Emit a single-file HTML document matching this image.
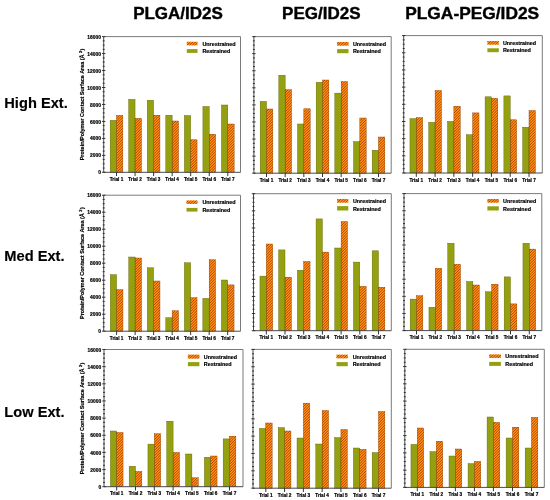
<!DOCTYPE html>
<html><head><meta charset="utf-8"><style>
html,body{margin:0;padding:0;background:#fff;}
body{width:550px;height:500px;overflow:hidden;}
svg{display:block;}
text{font-family:"Liberation Sans", sans-serif;font-weight:bold;paint-order:stroke;stroke-linejoin:round;}
.t{stroke:#000;stroke-width:0.4px;}
.r{stroke:#000;stroke-width:0.15px;}
.s{stroke:#111;stroke-width:0.2px;}
</style></head><body>
<svg width="550" height="500" viewBox="0 0 550 500">
<defs>
<filter id="bl" x="0" y="0" width="550" height="500" filterUnits="userSpaceOnUse"><feGaussianBlur stdDeviation="0.3"/></filter>
<filter id="bl2" x="0" y="0" width="550" height="500" filterUnits="userSpaceOnUse"><feGaussianBlur stdDeviation="0.15"/></filter>
<clipPath id="ob"><rect x="116.5" y="115.5" width="6.35" height="56.8"/><rect x="135.05" y="118.4" width="6.35" height="53.9"/><rect x="153.6" y="115.2" width="6.35" height="57.1"/><rect x="172.15" y="121" width="6.35" height="51.3"/><rect x="190.7" y="139.8" width="6.35" height="32.5"/><rect x="209.25" y="134.2" width="6.35" height="38.1"/><rect x="227.8" y="124" width="6.35" height="48.3"/><rect x="186.8" y="41.8" width="10.7" height="3.5"/><rect x="266.5" y="109" width="6.35" height="64.2"/><rect x="285.17" y="89.7" width="6.35" height="83.5"/><rect x="303.83" y="108.8" width="6.35" height="64.4"/><rect x="322.5" y="80" width="6.35" height="93.2"/><rect x="341.17" y="81.6" width="6.35" height="91.6"/><rect x="359.83" y="118" width="6.35" height="55.2"/><rect x="378.5" y="137" width="6.35" height="36.2"/><rect x="337.1" y="42" width="11.4" height="3.6"/><rect x="416.3" y="117.7" width="6.35" height="55.3"/><rect x="435.08" y="90.6" width="6.35" height="82.4"/><rect x="453.87" y="106.2" width="6.35" height="66.8"/><rect x="472.65" y="112.9" width="6.35" height="60.1"/><rect x="491.43" y="98.4" width="6.35" height="74.6"/><rect x="510.22" y="119.8" width="6.35" height="53.2"/><rect x="529" y="110.6" width="6.35" height="62.4"/><rect x="487.4" y="41" width="11.4" height="3.6"/><rect x="116.6" y="289.7" width="6.35" height="41.5"/><rect x="135.12" y="258" width="6.35" height="73.2"/><rect x="153.63" y="281" width="6.35" height="50.2"/><rect x="172.15" y="310.8" width="6.35" height="20.4"/><rect x="190.67" y="297.7" width="6.35" height="33.5"/><rect x="209.18" y="259.8" width="6.35" height="71.4"/><rect x="227.7" y="284.9" width="6.35" height="46.3"/><rect x="186.5" y="200.5" width="11" height="3.4"/><rect x="266.3" y="244" width="6.35" height="86.7"/><rect x="285" y="277.2" width="6.35" height="53.5"/><rect x="303.7" y="261.6" width="6.35" height="69.1"/><rect x="322.4" y="252.1" width="6.35" height="78.6"/><rect x="341.1" y="221.6" width="6.35" height="109.1"/><rect x="359.8" y="286.4" width="6.35" height="44.3"/><rect x="378.5" y="287.2" width="6.35" height="43.5"/><rect x="337.1" y="199" width="11.2" height="3.6"/><rect x="416.5" y="295.8" width="6.35" height="34.8"/><rect x="435.3" y="268.3" width="6.35" height="62.3"/><rect x="454.1" y="264.3" width="6.35" height="66.3"/><rect x="472.9" y="285" width="6.35" height="45.6"/><rect x="491.7" y="284.2" width="6.35" height="46.4"/><rect x="510.5" y="303.9" width="6.35" height="26.7"/><rect x="529.3" y="249.1" width="6.35" height="81.5"/><rect x="487.4" y="199" width="11.4" height="3.6"/><rect x="116.7" y="432.6" width="6.35" height="54.1"/><rect x="135.5" y="471.5" width="6.35" height="15.2"/><rect x="154.3" y="433.8" width="6.35" height="52.9"/><rect x="173.1" y="452.5" width="6.35" height="34.2"/><rect x="191.9" y="477.8" width="6.35" height="8.9"/><rect x="210.7" y="456" width="6.35" height="30.7"/><rect x="229.5" y="436.2" width="6.35" height="50.5"/><rect x="187.9" y="354.7" width="11.5" height="3.9"/><rect x="265.8" y="423" width="6.35" height="65.2"/><rect x="284.58" y="431" width="6.35" height="57.2"/><rect x="303.37" y="403.2" width="6.35" height="85"/><rect x="322.15" y="410.6" width="6.35" height="77.6"/><rect x="340.93" y="429.6" width="6.35" height="58.6"/><rect x="359.72" y="449.4" width="6.35" height="38.8"/><rect x="378.5" y="411.6" width="6.35" height="76.6"/><rect x="336.5" y="354.7" width="11.3" height="3.6"/><rect x="417.3" y="428" width="6.35" height="59.4"/><rect x="436.33" y="441.2" width="6.35" height="46.2"/><rect x="455.37" y="449" width="6.35" height="38.4"/><rect x="474.4" y="461.4" width="6.35" height="26"/><rect x="493.43" y="422.4" width="6.35" height="65"/><rect x="512.47" y="427.2" width="6.35" height="60.2"/><rect x="531.5" y="417.4" width="6.35" height="70"/><rect x="489.2" y="354.5" width="11.7" height="3.4"/></clipPath>
</defs>
<rect width="550" height="500" fill="#fff"/>
<g><rect x="110.15" y="120.3" width="6.35" height="52" fill="#94a010"/><rect x="128.7" y="99.4" width="6.35" height="72.9" fill="#94a010"/><rect x="147.25" y="100.2" width="6.35" height="72.1" fill="#94a010"/><rect x="165.8" y="115.2" width="6.35" height="57.1" fill="#94a010"/><rect x="184.35" y="115.5" width="6.35" height="56.8" fill="#94a010"/><rect x="202.9" y="106.5" width="6.35" height="65.8" fill="#94a010"/><rect x="221.45" y="105" width="6.35" height="67.3" fill="#94a010"/><rect x="186.8" y="49.1" width="10.7" height="3.8" fill="#94a010"/><rect x="260.15" y="101.4" width="6.35" height="71.8" fill="#94a010"/><rect x="278.82" y="75.2" width="6.35" height="98" fill="#94a010"/><rect x="297.48" y="124" width="6.35" height="49.2" fill="#94a010"/><rect x="316.15" y="82.3" width="6.35" height="90.9" fill="#94a010"/><rect x="334.82" y="93.1" width="6.35" height="80.1" fill="#94a010"/><rect x="353.48" y="141.6" width="6.35" height="31.6" fill="#94a010"/><rect x="372.15" y="150.2" width="6.35" height="23" fill="#94a010"/><rect x="337.1" y="49.1" width="11.4" height="4.1" fill="#94a010"/><rect x="409.95" y="118.6" width="6.35" height="54.4" fill="#94a010"/><rect x="428.73" y="122.3" width="6.35" height="50.7" fill="#94a010"/><rect x="447.52" y="121.4" width="6.35" height="51.6" fill="#94a010"/><rect x="466.3" y="134.7" width="6.35" height="38.3" fill="#94a010"/><rect x="485.08" y="96.8" width="6.35" height="76.2" fill="#94a010"/><rect x="503.87" y="95.9" width="6.35" height="77.1" fill="#94a010"/><rect x="522.65" y="127.2" width="6.35" height="45.8" fill="#94a010"/><rect x="487.4" y="48.3" width="11.4" height="3.9" fill="#94a010"/><rect x="110.25" y="274.7" width="6.35" height="56.5" fill="#94a010"/><rect x="128.77" y="257" width="6.35" height="74.2" fill="#94a010"/><rect x="147.28" y="267.8" width="6.35" height="63.4" fill="#94a010"/><rect x="165.8" y="317.7" width="6.35" height="13.5" fill="#94a010"/><rect x="184.32" y="262.8" width="6.35" height="68.4" fill="#94a010"/><rect x="202.83" y="298.4" width="6.35" height="32.8" fill="#94a010"/><rect x="221.35" y="280" width="6.35" height="51.2" fill="#94a010"/><rect x="186.5" y="207.9" width="11" height="3.7" fill="#94a010"/><rect x="259.95" y="276.1" width="6.35" height="54.6" fill="#94a010"/><rect x="278.65" y="249.9" width="6.35" height="80.8" fill="#94a010"/><rect x="297.35" y="270.2" width="6.35" height="60.5" fill="#94a010"/><rect x="316.05" y="218.9" width="6.35" height="111.8" fill="#94a010"/><rect x="334.75" y="248" width="6.35" height="82.7" fill="#94a010"/><rect x="353.45" y="262.1" width="6.35" height="68.6" fill="#94a010"/><rect x="372.15" y="250.8" width="6.35" height="79.9" fill="#94a010"/><rect x="337.1" y="206.1" width="11.2" height="4.4" fill="#94a010"/><rect x="410.15" y="299.1" width="6.35" height="31.5" fill="#94a010"/><rect x="428.95" y="307.2" width="6.35" height="23.4" fill="#94a010"/><rect x="447.75" y="243.2" width="6.35" height="87.4" fill="#94a010"/><rect x="466.55" y="281.5" width="6.35" height="49.1" fill="#94a010"/><rect x="485.35" y="291.8" width="6.35" height="38.8" fill="#94a010"/><rect x="504.15" y="276.9" width="6.35" height="53.7" fill="#94a010"/><rect x="522.95" y="243.2" width="6.35" height="87.4" fill="#94a010"/><rect x="487.4" y="206.3" width="11.4" height="4.2" fill="#94a010"/><rect x="110.35" y="431" width="6.35" height="55.7" fill="#94a010"/><rect x="129.15" y="466.2" width="6.35" height="20.5" fill="#94a010"/><rect x="147.95" y="444.1" width="6.35" height="42.6" fill="#94a010"/><rect x="166.75" y="421.2" width="6.35" height="65.5" fill="#94a010"/><rect x="185.55" y="454" width="6.35" height="32.7" fill="#94a010"/><rect x="204.35" y="457.2" width="6.35" height="29.5" fill="#94a010"/><rect x="223.15" y="438.9" width="6.35" height="47.8" fill="#94a010"/><rect x="187.9" y="362.1" width="11.5" height="4.1" fill="#94a010"/><rect x="259.45" y="428.4" width="6.35" height="59.8" fill="#94a010"/><rect x="278.23" y="427.6" width="6.35" height="60.6" fill="#94a010"/><rect x="297.02" y="438" width="6.35" height="50.2" fill="#94a010"/><rect x="315.8" y="444" width="6.35" height="44.2" fill="#94a010"/><rect x="334.58" y="437.6" width="6.35" height="50.6" fill="#94a010"/><rect x="353.37" y="448" width="6.35" height="40.2" fill="#94a010"/><rect x="372.15" y="452.6" width="6.35" height="35.6" fill="#94a010"/><rect x="336.5" y="362.1" width="11.3" height="4.1" fill="#94a010"/><rect x="410.95" y="444.4" width="6.35" height="43" fill="#94a010"/><rect x="429.98" y="451.6" width="6.35" height="35.8" fill="#94a010"/><rect x="449.02" y="456" width="6.35" height="31.4" fill="#94a010"/><rect x="468.05" y="463.6" width="6.35" height="23.8" fill="#94a010"/><rect x="487.08" y="417" width="6.35" height="70.4" fill="#94a010"/><rect x="506.12" y="438" width="6.35" height="49.4" fill="#94a010"/><rect x="525.15" y="448" width="6.35" height="39.4" fill="#94a010"/><rect x="489.2" y="361.9" width="11.7" height="4" fill="#94a010"/><rect x="116.5" y="115.5" width="6.35" height="56.8" fill="#ff9014"/><rect x="135.05" y="118.4" width="6.35" height="53.9" fill="#ff9014"/><rect x="153.6" y="115.2" width="6.35" height="57.1" fill="#ff9014"/><rect x="172.15" y="121" width="6.35" height="51.3" fill="#ff9014"/><rect x="190.7" y="139.8" width="6.35" height="32.5" fill="#ff9014"/><rect x="209.25" y="134.2" width="6.35" height="38.1" fill="#ff9014"/><rect x="227.8" y="124" width="6.35" height="48.3" fill="#ff9014"/><rect x="186.8" y="41.8" width="10.7" height="3.5" fill="#ff9014"/><rect x="266.5" y="109" width="6.35" height="64.2" fill="#ff9014"/><rect x="285.17" y="89.7" width="6.35" height="83.5" fill="#ff9014"/><rect x="303.83" y="108.8" width="6.35" height="64.4" fill="#ff9014"/><rect x="322.5" y="80" width="6.35" height="93.2" fill="#ff9014"/><rect x="341.17" y="81.6" width="6.35" height="91.6" fill="#ff9014"/><rect x="359.83" y="118" width="6.35" height="55.2" fill="#ff9014"/><rect x="378.5" y="137" width="6.35" height="36.2" fill="#ff9014"/><rect x="337.1" y="42" width="11.4" height="3.6" fill="#ff9014"/><rect x="416.3" y="117.7" width="6.35" height="55.3" fill="#ff9014"/><rect x="435.08" y="90.6" width="6.35" height="82.4" fill="#ff9014"/><rect x="453.87" y="106.2" width="6.35" height="66.8" fill="#ff9014"/><rect x="472.65" y="112.9" width="6.35" height="60.1" fill="#ff9014"/><rect x="491.43" y="98.4" width="6.35" height="74.6" fill="#ff9014"/><rect x="510.22" y="119.8" width="6.35" height="53.2" fill="#ff9014"/><rect x="529" y="110.6" width="6.35" height="62.4" fill="#ff9014"/><rect x="487.4" y="41" width="11.4" height="3.6" fill="#ff9014"/><rect x="116.6" y="289.7" width="6.35" height="41.5" fill="#ff9014"/><rect x="135.12" y="258" width="6.35" height="73.2" fill="#ff9014"/><rect x="153.63" y="281" width="6.35" height="50.2" fill="#ff9014"/><rect x="172.15" y="310.8" width="6.35" height="20.4" fill="#ff9014"/><rect x="190.67" y="297.7" width="6.35" height="33.5" fill="#ff9014"/><rect x="209.18" y="259.8" width="6.35" height="71.4" fill="#ff9014"/><rect x="227.7" y="284.9" width="6.35" height="46.3" fill="#ff9014"/><rect x="186.5" y="200.5" width="11" height="3.4" fill="#ff9014"/><rect x="266.3" y="244" width="6.35" height="86.7" fill="#ff9014"/><rect x="285" y="277.2" width="6.35" height="53.5" fill="#ff9014"/><rect x="303.7" y="261.6" width="6.35" height="69.1" fill="#ff9014"/><rect x="322.4" y="252.1" width="6.35" height="78.6" fill="#ff9014"/><rect x="341.1" y="221.6" width="6.35" height="109.1" fill="#ff9014"/><rect x="359.8" y="286.4" width="6.35" height="44.3" fill="#ff9014"/><rect x="378.5" y="287.2" width="6.35" height="43.5" fill="#ff9014"/><rect x="337.1" y="199" width="11.2" height="3.6" fill="#ff9014"/><rect x="416.5" y="295.8" width="6.35" height="34.8" fill="#ff9014"/><rect x="435.3" y="268.3" width="6.35" height="62.3" fill="#ff9014"/><rect x="454.1" y="264.3" width="6.35" height="66.3" fill="#ff9014"/><rect x="472.9" y="285" width="6.35" height="45.6" fill="#ff9014"/><rect x="491.7" y="284.2" width="6.35" height="46.4" fill="#ff9014"/><rect x="510.5" y="303.9" width="6.35" height="26.7" fill="#ff9014"/><rect x="529.3" y="249.1" width="6.35" height="81.5" fill="#ff9014"/><rect x="487.4" y="199" width="11.4" height="3.6" fill="#ff9014"/><rect x="116.7" y="432.6" width="6.35" height="54.1" fill="#ff9014"/><rect x="135.5" y="471.5" width="6.35" height="15.2" fill="#ff9014"/><rect x="154.3" y="433.8" width="6.35" height="52.9" fill="#ff9014"/><rect x="173.1" y="452.5" width="6.35" height="34.2" fill="#ff9014"/><rect x="191.9" y="477.8" width="6.35" height="8.9" fill="#ff9014"/><rect x="210.7" y="456" width="6.35" height="30.7" fill="#ff9014"/><rect x="229.5" y="436.2" width="6.35" height="50.5" fill="#ff9014"/><rect x="187.9" y="354.7" width="11.5" height="3.9" fill="#ff9014"/><rect x="265.8" y="423" width="6.35" height="65.2" fill="#ff9014"/><rect x="284.58" y="431" width="6.35" height="57.2" fill="#ff9014"/><rect x="303.37" y="403.2" width="6.35" height="85" fill="#ff9014"/><rect x="322.15" y="410.6" width="6.35" height="77.6" fill="#ff9014"/><rect x="340.93" y="429.6" width="6.35" height="58.6" fill="#ff9014"/><rect x="359.72" y="449.4" width="6.35" height="38.8" fill="#ff9014"/><rect x="378.5" y="411.6" width="6.35" height="76.6" fill="#ff9014"/><rect x="336.5" y="354.7" width="11.3" height="3.6" fill="#ff9014"/><rect x="417.3" y="428" width="6.35" height="59.4" fill="#ff9014"/><rect x="436.33" y="441.2" width="6.35" height="46.2" fill="#ff9014"/><rect x="455.37" y="449" width="6.35" height="38.4" fill="#ff9014"/><rect x="474.4" y="461.4" width="6.35" height="26" fill="#ff9014"/><rect x="493.43" y="422.4" width="6.35" height="65" fill="#ff9014"/><rect x="512.47" y="427.2" width="6.35" height="60.2" fill="#ff9014"/><rect x="531.5" y="417.4" width="6.35" height="70" fill="#ff9014"/><rect x="489.2" y="354.5" width="11.7" height="3.4" fill="#ff9014"/><path clip-path="url(#ob)" d="M0 2.7L2.7 0M0 5.4L5.4 0M0 8.1L8.1 0M0 10.8L10.8 0M0 13.5L13.5 0M0 16.2L16.2 0M0 18.9L18.9 0M0 21.6L21.6 0M0 24.3L24.3 0M0 27L27 0M0 29.7L29.7 0M0 32.4L32.4 0M0 35.1L35.1 0M0 37.8L37.8 0M0 40.5L40.5 0M0 43.2L43.2 0M0 45.9L45.9 0M0 48.6L48.6 0M0 51.3L51.3 0M0 54L54 0M0 56.7L56.7 0M0 59.4L59.4 0M0 62.1L62.1 0M0 64.8L64.8 0M0 67.5L67.5 0M0 70.2L70.2 0M0 72.9L72.9 0M0 75.6L75.6 0M0 78.3L78.3 0M0 81L81 0M0 83.7L83.7 0M0 86.4L86.4 0M0 89.1L89.1 0M0 91.8L91.8 0M0 94.5L94.5 0M0 97.2L97.2 0M0 99.9L99.9 0M0 102.6L102.6 0M0 105.3L105.3 0M0 108L108 0M0 110.7L110.7 0M0 113.4L113.4 0M0 116.1L116.1 0M0 118.8L118.8 0M0 121.5L121.5 0M0 124.2L124.2 0M0 126.9L126.9 0M0 129.6L129.6 0M0 132.3L132.3 0M0 135L135 0M0 137.7L137.7 0M0 140.4L140.4 0M0 143.1L143.1 0M0 145.8L145.8 0M0 148.5L148.5 0M0 151.2L151.2 0M0 153.9L153.9 0M0 156.6L156.6 0M0 159.3L159.3 0M0 162L162 0M0 164.7L164.7 0M0 167.4L167.4 0M0 170.1L170.1 0M0 172.8L172.8 0M0 175.5L175.5 0M0 178.2L178.2 0M0 180.9L180.9 0M0 183.6L183.6 0M0 186.3L186.3 0M0 189L189 0M0 191.7L191.7 0M0 194.4L194.4 0M0 197.1L197.1 0M0 199.8L199.8 0M0 202.5L202.5 0M0 205.2L205.2 0M0 207.9L207.9 0M0 210.6L210.6 0M0 213.3L213.3 0M0 216L216 0M0 218.7L218.7 0M0 221.4L221.4 0M0 224.1L224.1 0M0 226.8L226.8 0M0 229.5L229.5 0M0 232.2L232.2 0M0 234.9L234.9 0M0 237.6L237.6 0M0 240.3L240.3 0M0 243L243 0M0 245.7L245.7 0M0 248.4L248.4 0M0 251.1L251.1 0M0 253.8L253.8 0M0 256.5L256.5 0M0 259.2L259.2 0M0 261.9L261.9 0M0 264.6L264.6 0M0 267.3L267.3 0M0 270L270 0M0 272.7L272.7 0M0 275.4L275.4 0M0 278.1L278.1 0M0 280.8L280.8 0M0 283.5L283.5 0M0 286.2L286.2 0M0 288.9L288.9 0M0 291.6L291.6 0M0 294.3L294.3 0M0 297L297 0M0 299.7L299.7 0M0 302.4L302.4 0M0 305.1L305.1 0M0 307.8L307.8 0M0 310.5L310.5 0M0 313.2L313.2 0M0 315.9L315.9 0M0 318.6L318.6 0M0 321.3L321.3 0M0 324L324 0M0 326.7L326.7 0M0 329.4L329.4 0M0 332.1L332.1 0M0 334.8L334.8 0M0 337.5L337.5 0M0 340.2L340.2 0M0 342.9L342.9 0M0 345.6L345.6 0M0 348.3L348.3 0M0 351L351 0M0 353.7L353.7 0M0 356.4L356.4 0M0 359.1L359.1 0M0 361.8L361.8 0M0 364.5L364.5 0M0 367.2L367.2 0M0 369.9L369.9 0M0 372.6L372.6 0M0 375.3L375.3 0M0 378L378 0M0 380.7L380.7 0M0 383.4L383.4 0M0 386.1L386.1 0M0 388.8L388.8 0M0 391.5L391.5 0M0 394.2L394.2 0M0 396.9L396.9 0M0 399.6L399.6 0M0 402.3L402.3 0M0 405L405 0M0 407.7L407.7 0M0 410.4L410.4 0M0 413.1L413.1 0M0 415.8L415.8 0M0 418.5L418.5 0M0 421.2L421.2 0M0 423.9L423.9 0M0 426.6L426.6 0M0 429.3L429.3 0M0 432L432 0M0 434.7L434.7 0M0 437.4L437.4 0M0 440.1L440.1 0M0 442.8L442.8 0M0 445.5L445.5 0M0 448.2L448.2 0M0 450.9L450.9 0M0 453.6L453.6 0M0 456.3L456.3 0M0 459L459 0M0 461.7L461.7 0M0 464.4L464.4 0M0 467.1L467.1 0M0 469.8L469.8 0M0 472.5L472.5 0M0 475.2L475.2 0M0 477.9L477.9 0M0 480.6L480.6 0M0 483.3L483.3 0M0 486L486 0M0 488.7L488.7 0M0 491.4L491.4 0M0 494.1L494.1 0M0 496.8L496.8 0M0 499.5L499.5 0M2.2 500L502.2 0M4.9 500L504.9 0M7.6 500L507.6 0M10.3 500L510.3 0M13 500L513 0M15.7 500L515.7 0M18.4 500L518.4 0M21.1 500L521.1 0M23.8 500L523.8 0M26.5 500L526.5 0M29.2 500L529.2 0M31.9 500L531.9 0M34.6 500L534.6 0M37.3 500L537.3 0M40 500L540 0M42.7 500L542.7 0M45.4 500L545.4 0M48.1 500L548.1 0M50.8 500L550 0.8M53.5 500L550 3.5M56.2 500L550 6.2M58.9 500L550 8.9M61.6 500L550 11.6M64.3 500L550 14.3M67 500L550 17M69.7 500L550 19.7M72.4 500L550 22.4M75.1 500L550 25.1M77.8 500L550 27.8M80.5 500L550 30.5M83.2 500L550 33.2M85.9 500L550 35.9M88.6 500L550 38.6M91.3 500L550 41.3M94 500L550 44M96.7 500L550 46.7M99.4 500L550 49.4M102.1 500L550 52.1M104.8 500L550 54.8M107.5 500L550 57.5M110.2 500L550 60.2M112.9 500L550 62.9M115.6 500L550 65.6M118.3 500L550 68.3M121 500L550 71M123.7 500L550 73.7M126.4 500L550 76.4M129.1 500L550 79.1M131.8 500L550 81.8M134.5 500L550 84.5M137.2 500L550 87.2M139.9 500L550 89.9M142.6 500L550 92.6M145.3 500L550 95.3M148 500L550 98M150.7 500L550 100.7M153.4 500L550 103.4M156.1 500L550 106.1M158.8 500L550 108.8M161.5 500L550 111.5M164.2 500L550 114.2M166.9 500L550 116.9M169.6 500L550 119.6M172.3 500L550 122.3M175 500L550 125M177.7 500L550 127.7M180.4 500L550 130.4M183.1 500L550 133.1M185.8 500L550 135.8M188.5 500L550 138.5M191.2 500L550 141.2M193.9 500L550 143.9M196.6 500L550 146.6M199.3 500L550 149.3M202 500L550 152M204.7 500L550 154.7M207.4 500L550 157.4M210.1 500L550 160.1M212.8 500L550 162.8M215.5 500L550 165.5M218.2 500L550 168.2M220.9 500L550 170.9M223.6 500L550 173.6M226.3 500L550 176.3M229 500L550 179M231.7 500L550 181.7M234.4 500L550 184.4M237.1 500L550 187.1M239.8 500L550 189.8M242.5 500L550 192.5M245.2 500L550 195.2M247.9 500L550 197.9M250.6 500L550 200.6M253.3 500L550 203.3M256 500L550 206M258.7 500L550 208.7M261.4 500L550 211.4M264.1 500L550 214.1M266.8 500L550 216.8M269.5 500L550 219.5M272.2 500L550 222.2M274.9 500L550 224.9M277.6 500L550 227.6M280.3 500L550 230.3M283 500L550 233M285.7 500L550 235.7M288.4 500L550 238.4M291.1 500L550 241.1M293.8 500L550 243.8M296.5 500L550 246.5M299.2 500L550 249.2M301.9 500L550 251.9M304.6 500L550 254.6M307.3 500L550 257.3M310 500L550 260M312.7 500L550 262.7M315.4 500L550 265.4M318.1 500L550 268.1M320.8 500L550 270.8M323.5 500L550 273.5M326.2 500L550 276.2M328.9 500L550 278.9M331.6 500L550 281.6M334.3 500L550 284.3M337 500L550 287M339.7 500L550 289.7M342.4 500L550 292.4M345.1 500L550 295.1M347.8 500L550 297.8M350.5 500L550 300.5M353.2 500L550 303.2M355.9 500L550 305.9M358.6 500L550 308.6M361.3 500L550 311.3M364 500L550 314M366.7 500L550 316.7M369.4 500L550 319.4M372.1 500L550 322.1M374.8 500L550 324.8M377.5 500L550 327.5M380.2 500L550 330.2M382.9 500L550 332.9M385.6 500L550 335.6M388.3 500L550 338.3M391 500L550 341M393.7 500L550 343.7M396.4 500L550 346.4M399.1 500L550 349.1M401.8 500L550 351.8M404.5 500L550 354.5M407.2 500L550 357.2M409.9 500L550 359.9M412.6 500L550 362.6M415.3 500L550 365.3M418 500L550 368M420.7 500L550 370.7M423.4 500L550 373.4M426.1 500L550 376.1M428.8 500L550 378.8M431.5 500L550 381.5M434.2 500L550 384.2M436.9 500L550 386.9M439.6 500L550 389.6M442.3 500L550 392.3M445 500L550 395M447.7 500L550 397.7M450.4 500L550 400.4M453.1 500L550 403.1M455.8 500L550 405.8M458.5 500L550 408.5M461.2 500L550 411.2M463.9 500L550 413.9M466.6 500L550 416.6M469.3 500L550 419.3M472 500L550 422M474.7 500L550 424.7M477.4 500L550 427.4M480.1 500L550 430.1M482.8 500L550 432.8M485.5 500L550 435.5M488.2 500L550 438.2M490.9 500L550 440.9M493.6 500L550 443.6M496.3 500L550 446.3M499 500L550 449M501.7 500L550 451.7M504.4 500L550 454.4M507.1 500L550 457.1M509.8 500L550 459.8M512.5 500L550 462.5M515.2 500L550 465.2M517.9 500L550 467.9M520.6 500L550 470.6M523.3 500L550 473.3M526 500L550 476M528.7 500L550 478.7M531.4 500L550 481.4M534.1 500L550 484.1M536.8 500L550 486.8M539.5 500L550 489.5M542.2 500L550 492.2M544.9 500L550 494.9M547.6 500L550 497.6" stroke="#b44600" stroke-width="1.0" fill="none"/><rect x="110.15" y="120.3" width="6.35" height="52" fill="none" stroke="#5c6000" stroke-width="0.4"/><rect x="128.7" y="99.4" width="6.35" height="72.9" fill="none" stroke="#5c6000" stroke-width="0.4"/><rect x="147.25" y="100.2" width="6.35" height="72.1" fill="none" stroke="#5c6000" stroke-width="0.4"/><rect x="165.8" y="115.2" width="6.35" height="57.1" fill="none" stroke="#5c6000" stroke-width="0.4"/><rect x="184.35" y="115.5" width="6.35" height="56.8" fill="none" stroke="#5c6000" stroke-width="0.4"/><rect x="202.9" y="106.5" width="6.35" height="65.8" fill="none" stroke="#5c6000" stroke-width="0.4"/><rect x="221.45" y="105" width="6.35" height="67.3" fill="none" stroke="#5c6000" stroke-width="0.4"/><rect x="260.15" y="101.4" width="6.35" height="71.8" fill="none" stroke="#5c6000" stroke-width="0.4"/><rect x="278.82" y="75.2" width="6.35" height="98" fill="none" stroke="#5c6000" stroke-width="0.4"/><rect x="297.48" y="124" width="6.35" height="49.2" fill="none" stroke="#5c6000" stroke-width="0.4"/><rect x="316.15" y="82.3" width="6.35" height="90.9" fill="none" stroke="#5c6000" stroke-width="0.4"/><rect x="334.82" y="93.1" width="6.35" height="80.1" fill="none" stroke="#5c6000" stroke-width="0.4"/><rect x="353.48" y="141.6" width="6.35" height="31.6" fill="none" stroke="#5c6000" stroke-width="0.4"/><rect x="372.15" y="150.2" width="6.35" height="23" fill="none" stroke="#5c6000" stroke-width="0.4"/><rect x="409.95" y="118.6" width="6.35" height="54.4" fill="none" stroke="#5c6000" stroke-width="0.4"/><rect x="428.73" y="122.3" width="6.35" height="50.7" fill="none" stroke="#5c6000" stroke-width="0.4"/><rect x="447.52" y="121.4" width="6.35" height="51.6" fill="none" stroke="#5c6000" stroke-width="0.4"/><rect x="466.3" y="134.7" width="6.35" height="38.3" fill="none" stroke="#5c6000" stroke-width="0.4"/><rect x="485.08" y="96.8" width="6.35" height="76.2" fill="none" stroke="#5c6000" stroke-width="0.4"/><rect x="503.87" y="95.9" width="6.35" height="77.1" fill="none" stroke="#5c6000" stroke-width="0.4"/><rect x="522.65" y="127.2" width="6.35" height="45.8" fill="none" stroke="#5c6000" stroke-width="0.4"/><rect x="110.25" y="274.7" width="6.35" height="56.5" fill="none" stroke="#5c6000" stroke-width="0.4"/><rect x="128.77" y="257" width="6.35" height="74.2" fill="none" stroke="#5c6000" stroke-width="0.4"/><rect x="147.28" y="267.8" width="6.35" height="63.4" fill="none" stroke="#5c6000" stroke-width="0.4"/><rect x="165.8" y="317.7" width="6.35" height="13.5" fill="none" stroke="#5c6000" stroke-width="0.4"/><rect x="184.32" y="262.8" width="6.35" height="68.4" fill="none" stroke="#5c6000" stroke-width="0.4"/><rect x="202.83" y="298.4" width="6.35" height="32.8" fill="none" stroke="#5c6000" stroke-width="0.4"/><rect x="221.35" y="280" width="6.35" height="51.2" fill="none" stroke="#5c6000" stroke-width="0.4"/><rect x="259.95" y="276.1" width="6.35" height="54.6" fill="none" stroke="#5c6000" stroke-width="0.4"/><rect x="278.65" y="249.9" width="6.35" height="80.8" fill="none" stroke="#5c6000" stroke-width="0.4"/><rect x="297.35" y="270.2" width="6.35" height="60.5" fill="none" stroke="#5c6000" stroke-width="0.4"/><rect x="316.05" y="218.9" width="6.35" height="111.8" fill="none" stroke="#5c6000" stroke-width="0.4"/><rect x="334.75" y="248" width="6.35" height="82.7" fill="none" stroke="#5c6000" stroke-width="0.4"/><rect x="353.45" y="262.1" width="6.35" height="68.6" fill="none" stroke="#5c6000" stroke-width="0.4"/><rect x="372.15" y="250.8" width="6.35" height="79.9" fill="none" stroke="#5c6000" stroke-width="0.4"/><rect x="410.15" y="299.1" width="6.35" height="31.5" fill="none" stroke="#5c6000" stroke-width="0.4"/><rect x="428.95" y="307.2" width="6.35" height="23.4" fill="none" stroke="#5c6000" stroke-width="0.4"/><rect x="447.75" y="243.2" width="6.35" height="87.4" fill="none" stroke="#5c6000" stroke-width="0.4"/><rect x="466.55" y="281.5" width="6.35" height="49.1" fill="none" stroke="#5c6000" stroke-width="0.4"/><rect x="485.35" y="291.8" width="6.35" height="38.8" fill="none" stroke="#5c6000" stroke-width="0.4"/><rect x="504.15" y="276.9" width="6.35" height="53.7" fill="none" stroke="#5c6000" stroke-width="0.4"/><rect x="522.95" y="243.2" width="6.35" height="87.4" fill="none" stroke="#5c6000" stroke-width="0.4"/><rect x="110.35" y="431" width="6.35" height="55.7" fill="none" stroke="#5c6000" stroke-width="0.4"/><rect x="129.15" y="466.2" width="6.35" height="20.5" fill="none" stroke="#5c6000" stroke-width="0.4"/><rect x="147.95" y="444.1" width="6.35" height="42.6" fill="none" stroke="#5c6000" stroke-width="0.4"/><rect x="166.75" y="421.2" width="6.35" height="65.5" fill="none" stroke="#5c6000" stroke-width="0.4"/><rect x="185.55" y="454" width="6.35" height="32.7" fill="none" stroke="#5c6000" stroke-width="0.4"/><rect x="204.35" y="457.2" width="6.35" height="29.5" fill="none" stroke="#5c6000" stroke-width="0.4"/><rect x="223.15" y="438.9" width="6.35" height="47.8" fill="none" stroke="#5c6000" stroke-width="0.4"/><rect x="259.45" y="428.4" width="6.35" height="59.8" fill="none" stroke="#5c6000" stroke-width="0.4"/><rect x="278.23" y="427.6" width="6.35" height="60.6" fill="none" stroke="#5c6000" stroke-width="0.4"/><rect x="297.02" y="438" width="6.35" height="50.2" fill="none" stroke="#5c6000" stroke-width="0.4"/><rect x="315.8" y="444" width="6.35" height="44.2" fill="none" stroke="#5c6000" stroke-width="0.4"/><rect x="334.58" y="437.6" width="6.35" height="50.6" fill="none" stroke="#5c6000" stroke-width="0.4"/><rect x="353.37" y="448" width="6.35" height="40.2" fill="none" stroke="#5c6000" stroke-width="0.4"/><rect x="372.15" y="452.6" width="6.35" height="35.6" fill="none" stroke="#5c6000" stroke-width="0.4"/><rect x="410.95" y="444.4" width="6.35" height="43" fill="none" stroke="#5c6000" stroke-width="0.4"/><rect x="429.98" y="451.6" width="6.35" height="35.8" fill="none" stroke="#5c6000" stroke-width="0.4"/><rect x="449.02" y="456" width="6.35" height="31.4" fill="none" stroke="#5c6000" stroke-width="0.4"/><rect x="468.05" y="463.6" width="6.35" height="23.8" fill="none" stroke="#5c6000" stroke-width="0.4"/><rect x="487.08" y="417" width="6.35" height="70.4" fill="none" stroke="#5c6000" stroke-width="0.4"/><rect x="506.12" y="438" width="6.35" height="49.4" fill="none" stroke="#5c6000" stroke-width="0.4"/><rect x="525.15" y="448" width="6.35" height="39.4" fill="none" stroke="#5c6000" stroke-width="0.4"/><rect x="116.5" y="115.5" width="6.35" height="56.8" fill="none" stroke="#8a3c00" stroke-width="0.4"/><rect x="135.05" y="118.4" width="6.35" height="53.9" fill="none" stroke="#8a3c00" stroke-width="0.4"/><rect x="153.6" y="115.2" width="6.35" height="57.1" fill="none" stroke="#8a3c00" stroke-width="0.4"/><rect x="172.15" y="121" width="6.35" height="51.3" fill="none" stroke="#8a3c00" stroke-width="0.4"/><rect x="190.7" y="139.8" width="6.35" height="32.5" fill="none" stroke="#8a3c00" stroke-width="0.4"/><rect x="209.25" y="134.2" width="6.35" height="38.1" fill="none" stroke="#8a3c00" stroke-width="0.4"/><rect x="227.8" y="124" width="6.35" height="48.3" fill="none" stroke="#8a3c00" stroke-width="0.4"/><rect x="266.5" y="109" width="6.35" height="64.2" fill="none" stroke="#8a3c00" stroke-width="0.4"/><rect x="285.17" y="89.7" width="6.35" height="83.5" fill="none" stroke="#8a3c00" stroke-width="0.4"/><rect x="303.83" y="108.8" width="6.35" height="64.4" fill="none" stroke="#8a3c00" stroke-width="0.4"/><rect x="322.5" y="80" width="6.35" height="93.2" fill="none" stroke="#8a3c00" stroke-width="0.4"/><rect x="341.17" y="81.6" width="6.35" height="91.6" fill="none" stroke="#8a3c00" stroke-width="0.4"/><rect x="359.83" y="118" width="6.35" height="55.2" fill="none" stroke="#8a3c00" stroke-width="0.4"/><rect x="378.5" y="137" width="6.35" height="36.2" fill="none" stroke="#8a3c00" stroke-width="0.4"/><rect x="416.3" y="117.7" width="6.35" height="55.3" fill="none" stroke="#8a3c00" stroke-width="0.4"/><rect x="435.08" y="90.6" width="6.35" height="82.4" fill="none" stroke="#8a3c00" stroke-width="0.4"/><rect x="453.87" y="106.2" width="6.35" height="66.8" fill="none" stroke="#8a3c00" stroke-width="0.4"/><rect x="472.65" y="112.9" width="6.35" height="60.1" fill="none" stroke="#8a3c00" stroke-width="0.4"/><rect x="491.43" y="98.4" width="6.35" height="74.6" fill="none" stroke="#8a3c00" stroke-width="0.4"/><rect x="510.22" y="119.8" width="6.35" height="53.2" fill="none" stroke="#8a3c00" stroke-width="0.4"/><rect x="529" y="110.6" width="6.35" height="62.4" fill="none" stroke="#8a3c00" stroke-width="0.4"/><rect x="116.6" y="289.7" width="6.35" height="41.5" fill="none" stroke="#8a3c00" stroke-width="0.4"/><rect x="135.12" y="258" width="6.35" height="73.2" fill="none" stroke="#8a3c00" stroke-width="0.4"/><rect x="153.63" y="281" width="6.35" height="50.2" fill="none" stroke="#8a3c00" stroke-width="0.4"/><rect x="172.15" y="310.8" width="6.35" height="20.4" fill="none" stroke="#8a3c00" stroke-width="0.4"/><rect x="190.67" y="297.7" width="6.35" height="33.5" fill="none" stroke="#8a3c00" stroke-width="0.4"/><rect x="209.18" y="259.8" width="6.35" height="71.4" fill="none" stroke="#8a3c00" stroke-width="0.4"/><rect x="227.7" y="284.9" width="6.35" height="46.3" fill="none" stroke="#8a3c00" stroke-width="0.4"/><rect x="266.3" y="244" width="6.35" height="86.7" fill="none" stroke="#8a3c00" stroke-width="0.4"/><rect x="285" y="277.2" width="6.35" height="53.5" fill="none" stroke="#8a3c00" stroke-width="0.4"/><rect x="303.7" y="261.6" width="6.35" height="69.1" fill="none" stroke="#8a3c00" stroke-width="0.4"/><rect x="322.4" y="252.1" width="6.35" height="78.6" fill="none" stroke="#8a3c00" stroke-width="0.4"/><rect x="341.1" y="221.6" width="6.35" height="109.1" fill="none" stroke="#8a3c00" stroke-width="0.4"/><rect x="359.8" y="286.4" width="6.35" height="44.3" fill="none" stroke="#8a3c00" stroke-width="0.4"/><rect x="378.5" y="287.2" width="6.35" height="43.5" fill="none" stroke="#8a3c00" stroke-width="0.4"/><rect x="416.5" y="295.8" width="6.35" height="34.8" fill="none" stroke="#8a3c00" stroke-width="0.4"/><rect x="435.3" y="268.3" width="6.35" height="62.3" fill="none" stroke="#8a3c00" stroke-width="0.4"/><rect x="454.1" y="264.3" width="6.35" height="66.3" fill="none" stroke="#8a3c00" stroke-width="0.4"/><rect x="472.9" y="285" width="6.35" height="45.6" fill="none" stroke="#8a3c00" stroke-width="0.4"/><rect x="491.7" y="284.2" width="6.35" height="46.4" fill="none" stroke="#8a3c00" stroke-width="0.4"/><rect x="510.5" y="303.9" width="6.35" height="26.7" fill="none" stroke="#8a3c00" stroke-width="0.4"/><rect x="529.3" y="249.1" width="6.35" height="81.5" fill="none" stroke="#8a3c00" stroke-width="0.4"/><rect x="116.7" y="432.6" width="6.35" height="54.1" fill="none" stroke="#8a3c00" stroke-width="0.4"/><rect x="135.5" y="471.5" width="6.35" height="15.2" fill="none" stroke="#8a3c00" stroke-width="0.4"/><rect x="154.3" y="433.8" width="6.35" height="52.9" fill="none" stroke="#8a3c00" stroke-width="0.4"/><rect x="173.1" y="452.5" width="6.35" height="34.2" fill="none" stroke="#8a3c00" stroke-width="0.4"/><rect x="191.9" y="477.8" width="6.35" height="8.9" fill="none" stroke="#8a3c00" stroke-width="0.4"/><rect x="210.7" y="456" width="6.35" height="30.7" fill="none" stroke="#8a3c00" stroke-width="0.4"/><rect x="229.5" y="436.2" width="6.35" height="50.5" fill="none" stroke="#8a3c00" stroke-width="0.4"/><rect x="265.8" y="423" width="6.35" height="65.2" fill="none" stroke="#8a3c00" stroke-width="0.4"/><rect x="284.58" y="431" width="6.35" height="57.2" fill="none" stroke="#8a3c00" stroke-width="0.4"/><rect x="303.37" y="403.2" width="6.35" height="85" fill="none" stroke="#8a3c00" stroke-width="0.4"/><rect x="322.15" y="410.6" width="6.35" height="77.6" fill="none" stroke="#8a3c00" stroke-width="0.4"/><rect x="340.93" y="429.6" width="6.35" height="58.6" fill="none" stroke="#8a3c00" stroke-width="0.4"/><rect x="359.72" y="449.4" width="6.35" height="38.8" fill="none" stroke="#8a3c00" stroke-width="0.4"/><rect x="378.5" y="411.6" width="6.35" height="76.6" fill="none" stroke="#8a3c00" stroke-width="0.4"/><rect x="417.3" y="428" width="6.35" height="59.4" fill="none" stroke="#8a3c00" stroke-width="0.4"/><rect x="436.33" y="441.2" width="6.35" height="46.2" fill="none" stroke="#8a3c00" stroke-width="0.4"/><rect x="455.37" y="449" width="6.35" height="38.4" fill="none" stroke="#8a3c00" stroke-width="0.4"/><rect x="474.4" y="461.4" width="6.35" height="26" fill="none" stroke="#8a3c00" stroke-width="0.4"/><rect x="493.43" y="422.4" width="6.35" height="65" fill="none" stroke="#8a3c00" stroke-width="0.4"/><rect x="512.47" y="427.2" width="6.35" height="60.2" fill="none" stroke="#8a3c00" stroke-width="0.4"/><rect x="531.5" y="417.4" width="6.35" height="70" fill="none" stroke="#8a3c00" stroke-width="0.4"/></g>
<g filter="url(#bl)"><text x="178" y="18.85" font-size="17" text-anchor="middle" class="t" fill="#000">PLGA/ID2S</text><text x="321.3" y="18.85" font-size="17" text-anchor="middle" class="t" fill="#000">PEG/ID2S</text><text x="472.2" y="18.85" font-size="17.35" text-anchor="middle" class="t" fill="#000">PLGA-PEG/ID2S</text><text x="4.3" y="108.45" font-size="14.65" class="r" fill="#000">High Ext.</text><text x="4.3" y="260.85" font-size="14.65" class="r" fill="#000">Med Ext.</text><text x="4.3" y="416.95" font-size="14.65" class="r" fill="#000">Low Ext.</text><path d="M103.7 36.6H240.5V172.3" fill="none" stroke="#7a7a7a" stroke-width="1"/><path d="M103.7 36.6V172.3H240.5" fill="none" stroke="#4a4a4a" stroke-width="1"/><text x="100.9" y="174.4" font-size="4.9" text-anchor="end" class="s" fill="#000">0</text><text x="100.9" y="157.44" font-size="4.9" text-anchor="end" class="s" fill="#000">2000</text><text x="100.9" y="140.47" font-size="4.9" text-anchor="end" class="s" fill="#000">4000</text><text x="100.9" y="123.51" font-size="4.9" text-anchor="end" class="s" fill="#000">6000</text><text x="100.9" y="106.55" font-size="4.9" text-anchor="end" class="s" fill="#000">8000</text><text x="100.9" y="89.59" font-size="4.9" text-anchor="end" class="s" fill="#000">10000</text><text x="100.9" y="72.62" font-size="4.9" text-anchor="end" class="s" fill="#000">12000</text><text x="100.9" y="55.66" font-size="4.9" text-anchor="end" class="s" fill="#000">14000</text><text x="100.9" y="38.7" font-size="4.9" text-anchor="end" class="s" fill="#000">16000</text><text x="116.5" y="180.9" font-size="4.7" text-anchor="middle" class="s" fill="#000">Trial 1</text><text x="135.05" y="180.9" font-size="4.7" text-anchor="middle" class="s" fill="#000">Trial 2</text><text x="153.6" y="180.9" font-size="4.7" text-anchor="middle" class="s" fill="#000">Trial 3</text><text x="172.15" y="180.9" font-size="4.7" text-anchor="middle" class="s" fill="#000">Trial 4</text><text x="190.7" y="180.9" font-size="4.7" text-anchor="middle" class="s" fill="#000">Trial 5</text><text x="209.25" y="180.9" font-size="4.7" text-anchor="middle" class="s" fill="#000">Trial 6</text><text x="227.8" y="180.9" font-size="4.7" text-anchor="middle" class="s" fill="#000">Trial 7</text><path d="M102 172.3H105.4M102.7 168.06H104.7M102.7 163.82H104.7M102.7 159.58H104.7M102 155.34H105.4M102.7 151.1H104.7M102.7 146.86H104.7M102.7 142.62H104.7M102 138.38H105.4M102.7 134.13H104.7M102.7 129.89H104.7M102.7 125.65H104.7M102 121.41H105.4M102.7 117.17H104.7M102.7 112.93H104.7M102.7 108.69H104.7M102 104.45H105.4M102.7 100.21H104.7M102.7 95.97H104.7M102.7 91.73H104.7M102 87.49H105.4M102.7 83.25H104.7M102.7 79.01H104.7M102.7 74.77H104.7M102 70.53H105.4M102.7 66.28H104.7M102.7 62.04H104.7M102.7 57.8H104.7M102 53.56H105.4M102.7 49.32H104.7M102.7 45.08H104.7M102.7 40.84H104.7M102 36.6H105.4M116.5 172.3V176.1M135.05 172.3V176.1M153.6 172.3V176.1M172.15 172.3V176.1M190.7 172.3V176.1M209.25 172.3V176.1M227.8 172.3V176.1" stroke="#2a2a2a" stroke-width="0.95" fill="none"/><text x="202.4" y="45.5" font-size="5.4" class="s" fill="#000">Unrestrained</text><text x="202.4" y="53.1" font-size="5.4" class="s" fill="#000">Restrained</text><text transform="translate(84.2 160.3) rotate(-90)" font-size="5.46" class="s" fill="#000">Protein/Polymer Contact Surface Area</text><text transform="translate(84.2 60.35) rotate(-90)" font-size="5.46" class="s" fill="#000">(</text><text transform="translate(84.2 58.6) rotate(-90)" font-size="5.46" class="s" fill="#000">Å</text><text transform="translate(82 53.1) rotate(-90)" font-size="3.9" class="s" fill="#000">2</text><text transform="translate(84.2 50.4) rotate(-90)" font-size="5.46" class="s" fill="#000">)</text><path d="M253.9 36.6H391.2V173.2" fill="none" stroke="#7a7a7a" stroke-width="1"/><path d="M253.9 36.6V173.2H391.2" fill="none" stroke="#4a4a4a" stroke-width="1"/><text x="266.5" y="181.8" font-size="4.7" text-anchor="middle" class="s" fill="#000">Trial 1</text><text x="285.17" y="181.8" font-size="4.7" text-anchor="middle" class="s" fill="#000">Trial 2</text><text x="303.83" y="181.8" font-size="4.7" text-anchor="middle" class="s" fill="#000">Trial 3</text><text x="322.5" y="181.8" font-size="4.7" text-anchor="middle" class="s" fill="#000">Trial 4</text><text x="341.17" y="181.8" font-size="4.7" text-anchor="middle" class="s" fill="#000">Trial 5</text><text x="359.83" y="181.8" font-size="4.7" text-anchor="middle" class="s" fill="#000">Trial 6</text><text x="378.5" y="181.8" font-size="4.7" text-anchor="middle" class="s" fill="#000">Trial 7</text><path d="M252.2 173.2H255.6M252.9 168.93H254.9M252.9 164.66H254.9M252.9 160.39H254.9M252.2 156.12H255.6M252.9 151.86H254.9M252.9 147.59H254.9M252.9 143.32H254.9M252.2 139.05H255.6M252.9 134.78H254.9M252.9 130.51H254.9M252.9 126.24H254.9M252.2 121.97H255.6M252.9 117.71H254.9M252.9 113.44H254.9M252.9 109.17H254.9M252.2 104.9H255.6M252.9 100.63H254.9M252.9 96.36H254.9M252.9 92.09H254.9M252.2 87.82H255.6M252.9 83.56H254.9M252.9 79.29H254.9M252.9 75.02H254.9M252.2 70.75H255.6M252.9 66.48H254.9M252.9 62.21H254.9M252.9 57.94H254.9M252.2 53.67H255.6M252.9 49.41H254.9M252.9 45.14H254.9M252.9 40.87H254.9M252.2 36.6H255.6M266.5 173.2V177M285.17 173.2V177M303.83 173.2V177M322.5 173.2V177M341.17 173.2V177M359.83 173.2V177M378.5 173.2V177" stroke="#2a2a2a" stroke-width="0.95" fill="none"/><text x="352.9" y="45.8" font-size="5.4" class="s" fill="#000">Unrestrained</text><text x="352.9" y="53.4" font-size="5.4" class="s" fill="#000">Restrained</text><path d="M403.7 35.6H542.3V173" fill="none" stroke="#7a7a7a" stroke-width="1"/><path d="M403.7 35.6V173H542.3" fill="none" stroke="#4a4a4a" stroke-width="1"/><text x="416.3" y="181.6" font-size="4.7" text-anchor="middle" class="s" fill="#000">Trial 1</text><text x="435.08" y="181.6" font-size="4.7" text-anchor="middle" class="s" fill="#000">Trial 2</text><text x="453.87" y="181.6" font-size="4.7" text-anchor="middle" class="s" fill="#000">Trial 3</text><text x="472.65" y="181.6" font-size="4.7" text-anchor="middle" class="s" fill="#000">Trial 4</text><text x="491.43" y="181.6" font-size="4.7" text-anchor="middle" class="s" fill="#000">Trial 5</text><text x="510.22" y="181.6" font-size="4.7" text-anchor="middle" class="s" fill="#000">Trial 6</text><text x="529" y="181.6" font-size="4.7" text-anchor="middle" class="s" fill="#000">Trial 7</text><path d="M402 173H405.4M402.7 168.71H404.7M402.7 164.41H404.7M402.7 160.12H404.7M402 155.82H405.4M402.7 151.53H404.7M402.7 147.24H404.7M402.7 142.94H404.7M402 138.65H405.4M402.7 134.36H404.7M402.7 130.06H404.7M402.7 125.77H404.7M402 121.47H405.4M402.7 117.18H404.7M402.7 112.89H404.7M402.7 108.59H404.7M402 104.3H405.4M402.7 100.01H404.7M402.7 95.71H404.7M402.7 91.42H404.7M402 87.12H405.4M402.7 82.83H404.7M402.7 78.54H404.7M402.7 74.24H404.7M402 69.95H405.4M402.7 65.66H404.7M402.7 61.36H404.7M402.7 57.07H404.7M402 52.77H405.4M402.7 48.48H404.7M402.7 44.19H404.7M402.7 39.89H404.7M402 35.6H405.4M416.3 173V176.8M435.08 173V176.8M453.87 173V176.8M472.65 173V176.8M491.43 173V176.8M510.22 173V176.8M529 173V176.8" stroke="#2a2a2a" stroke-width="0.95" fill="none"/><text x="502.9" y="44.8" font-size="5.4" class="s" fill="#000">Unrestrained</text><text x="502.9" y="52.4" font-size="5.4" class="s" fill="#000">Restrained</text><path d="M103.7 195.2H240.5V331.2" fill="none" stroke="#7a7a7a" stroke-width="1"/><path d="M103.7 195.2V331.2H240.5" fill="none" stroke="#4a4a4a" stroke-width="1"/><text x="100.9" y="333.3" font-size="4.9" text-anchor="end" class="s" fill="#000">0</text><text x="100.9" y="316.3" font-size="4.9" text-anchor="end" class="s" fill="#000">2000</text><text x="100.9" y="299.3" font-size="4.9" text-anchor="end" class="s" fill="#000">4000</text><text x="100.9" y="282.3" font-size="4.9" text-anchor="end" class="s" fill="#000">6000</text><text x="100.9" y="265.3" font-size="4.9" text-anchor="end" class="s" fill="#000">8000</text><text x="100.9" y="248.3" font-size="4.9" text-anchor="end" class="s" fill="#000">10000</text><text x="100.9" y="231.3" font-size="4.9" text-anchor="end" class="s" fill="#000">12000</text><text x="100.9" y="214.3" font-size="4.9" text-anchor="end" class="s" fill="#000">14000</text><text x="100.9" y="197.3" font-size="4.9" text-anchor="end" class="s" fill="#000">16000</text><text x="116.6" y="339.8" font-size="4.7" text-anchor="middle" class="s" fill="#000">Trial 1</text><text x="135.12" y="339.8" font-size="4.7" text-anchor="middle" class="s" fill="#000">Trial 2</text><text x="153.63" y="339.8" font-size="4.7" text-anchor="middle" class="s" fill="#000">Trial 3</text><text x="172.15" y="339.8" font-size="4.7" text-anchor="middle" class="s" fill="#000">Trial 4</text><text x="190.67" y="339.8" font-size="4.7" text-anchor="middle" class="s" fill="#000">Trial 5</text><text x="209.18" y="339.8" font-size="4.7" text-anchor="middle" class="s" fill="#000">Trial 6</text><text x="227.7" y="339.8" font-size="4.7" text-anchor="middle" class="s" fill="#000">Trial 7</text><path d="M102 331.2H105.4M102.7 326.95H104.7M102.7 322.7H104.7M102.7 318.45H104.7M102 314.2H105.4M102.7 309.95H104.7M102.7 305.7H104.7M102.7 301.45H104.7M102 297.2H105.4M102.7 292.95H104.7M102.7 288.7H104.7M102.7 284.45H104.7M102 280.2H105.4M102.7 275.95H104.7M102.7 271.7H104.7M102.7 267.45H104.7M102 263.2H105.4M102.7 258.95H104.7M102.7 254.7H104.7M102.7 250.45H104.7M102 246.2H105.4M102.7 241.95H104.7M102.7 237.7H104.7M102.7 233.45H104.7M102 229.2H105.4M102.7 224.95H104.7M102.7 220.7H104.7M102.7 216.45H104.7M102 212.2H105.4M102.7 207.95H104.7M102.7 203.7H104.7M102.7 199.45H104.7M102 195.2H105.4M116.6 331.2V335M135.12 331.2V335M153.63 331.2V335M172.15 331.2V335M190.67 331.2V335M209.18 331.2V335M227.7 331.2V335" stroke="#2a2a2a" stroke-width="0.95" fill="none"/><text x="202.4" y="204.1" font-size="5.4" class="s" fill="#000">Unrestrained</text><text x="202.4" y="211.8" font-size="5.4" class="s" fill="#000">Restrained</text><text transform="translate(84.2 319) rotate(-90)" font-size="5.46" class="s" fill="#000">Protein/Polymer Contact Surface Area</text><text transform="translate(84.2 219.05) rotate(-90)" font-size="5.46" class="s" fill="#000">(</text><text transform="translate(84.2 217.3) rotate(-90)" font-size="5.46" class="s" fill="#000">Å</text><text transform="translate(82 211.8) rotate(-90)" font-size="3.9" class="s" fill="#000">2</text><text transform="translate(84.2 209.1) rotate(-90)" font-size="5.46" class="s" fill="#000">)</text><path d="M253.5 193.7H391.3V330.7" fill="none" stroke="#7a7a7a" stroke-width="1"/><path d="M253.5 193.7V330.7H391.3" fill="none" stroke="#4a4a4a" stroke-width="1"/><text x="266.3" y="339.3" font-size="4.7" text-anchor="middle" class="s" fill="#000">Trial 1</text><text x="285" y="339.3" font-size="4.7" text-anchor="middle" class="s" fill="#000">Trial 2</text><text x="303.7" y="339.3" font-size="4.7" text-anchor="middle" class="s" fill="#000">Trial 3</text><text x="322.4" y="339.3" font-size="4.7" text-anchor="middle" class="s" fill="#000">Trial 4</text><text x="341.1" y="339.3" font-size="4.7" text-anchor="middle" class="s" fill="#000">Trial 5</text><text x="359.8" y="339.3" font-size="4.7" text-anchor="middle" class="s" fill="#000">Trial 6</text><text x="378.5" y="339.3" font-size="4.7" text-anchor="middle" class="s" fill="#000">Trial 7</text><path d="M251.8 330.7H255.2M252.5 326.42H254.5M252.5 322.14H254.5M252.5 317.86H254.5M251.8 313.57H255.2M252.5 309.29H254.5M252.5 305.01H254.5M252.5 300.73H254.5M251.8 296.45H255.2M252.5 292.17H254.5M252.5 287.89H254.5M252.5 283.61H254.5M251.8 279.32H255.2M252.5 275.04H254.5M252.5 270.76H254.5M252.5 266.48H254.5M251.8 262.2H255.2M252.5 257.92H254.5M252.5 253.64H254.5M252.5 249.36H254.5M251.8 245.07H255.2M252.5 240.79H254.5M252.5 236.51H254.5M252.5 232.23H254.5M251.8 227.95H255.2M252.5 223.67H254.5M252.5 219.39H254.5M252.5 215.11H254.5M251.8 210.82H255.2M252.5 206.54H254.5M252.5 202.26H254.5M252.5 197.98H254.5M251.8 193.7H255.2M266.3 330.7V334.5M285 330.7V334.5M303.7 330.7V334.5M322.4 330.7V334.5M341.1 330.7V334.5M359.8 330.7V334.5M378.5 330.7V334.5" stroke="#2a2a2a" stroke-width="0.95" fill="none"/><text x="352.9" y="202.8" font-size="5.4" class="s" fill="#000">Unrestrained</text><text x="352.9" y="210.7" font-size="5.4" class="s" fill="#000">Restrained</text><path d="M404 193.6H541.8V330.6" fill="none" stroke="#7a7a7a" stroke-width="1"/><path d="M404 193.6V330.6H541.8" fill="none" stroke="#4a4a4a" stroke-width="1"/><text x="416.5" y="339.2" font-size="4.7" text-anchor="middle" class="s" fill="#000">Trial 1</text><text x="435.3" y="339.2" font-size="4.7" text-anchor="middle" class="s" fill="#000">Trial 2</text><text x="454.1" y="339.2" font-size="4.7" text-anchor="middle" class="s" fill="#000">Trial 3</text><text x="472.9" y="339.2" font-size="4.7" text-anchor="middle" class="s" fill="#000">Trial 4</text><text x="491.7" y="339.2" font-size="4.7" text-anchor="middle" class="s" fill="#000">Trial 5</text><text x="510.5" y="339.2" font-size="4.7" text-anchor="middle" class="s" fill="#000">Trial 6</text><text x="529.3" y="339.2" font-size="4.7" text-anchor="middle" class="s" fill="#000">Trial 7</text><path d="M402.3 330.6H405.7M403 326.32H405M403 322.04H405M403 317.76H405M402.3 313.48H405.7M403 309.19H405M403 304.91H405M403 300.63H405M402.3 296.35H405.7M403 292.07H405M403 287.79H405M403 283.51H405M402.3 279.23H405.7M403 274.94H405M403 270.66H405M403 266.38H405M402.3 262.1H405.7M403 257.82H405M403 253.54H405M403 249.26H405M402.3 244.98H405.7M403 240.69H405M403 236.41H405M403 232.13H405M402.3 227.85H405.7M403 223.57H405M403 219.29H405M403 215.01H405M402.3 210.72H405.7M403 206.44H405M403 202.16H405M403 197.88H405M402.3 193.6H405.7M416.5 330.6V334.4M435.3 330.6V334.4M454.1 330.6V334.4M472.9 330.6V334.4M491.7 330.6V334.4M510.5 330.6V334.4M529.3 330.6V334.4" stroke="#2a2a2a" stroke-width="0.95" fill="none"/><text x="503.1" y="202.8" font-size="5.4" class="s" fill="#000">Unrestrained</text><text x="503.1" y="210.7" font-size="5.4" class="s" fill="#000">Restrained</text><path d="M104 349.5H243V486.7" fill="none" stroke="#7a7a7a" stroke-width="1"/><path d="M104 349.5V486.7H243" fill="none" stroke="#4a4a4a" stroke-width="1"/><text x="101.2" y="488.8" font-size="4.9" text-anchor="end" class="s" fill="#000">0</text><text x="101.2" y="471.65" font-size="4.9" text-anchor="end" class="s" fill="#000">2000</text><text x="101.2" y="454.5" font-size="4.9" text-anchor="end" class="s" fill="#000">4000</text><text x="101.2" y="437.35" font-size="4.9" text-anchor="end" class="s" fill="#000">6000</text><text x="101.2" y="420.2" font-size="4.9" text-anchor="end" class="s" fill="#000">8000</text><text x="101.2" y="403.05" font-size="4.9" text-anchor="end" class="s" fill="#000">10000</text><text x="101.2" y="385.9" font-size="4.9" text-anchor="end" class="s" fill="#000">12000</text><text x="101.2" y="368.75" font-size="4.9" text-anchor="end" class="s" fill="#000">14000</text><text x="101.2" y="351.6" font-size="4.9" text-anchor="end" class="s" fill="#000">16000</text><text x="116.7" y="495.3" font-size="4.7" text-anchor="middle" class="s" fill="#000">Trial 1</text><text x="135.5" y="495.3" font-size="4.7" text-anchor="middle" class="s" fill="#000">Trial 2</text><text x="154.3" y="495.3" font-size="4.7" text-anchor="middle" class="s" fill="#000">Trial 3</text><text x="173.1" y="495.3" font-size="4.7" text-anchor="middle" class="s" fill="#000">Trial 4</text><text x="191.9" y="495.3" font-size="4.7" text-anchor="middle" class="s" fill="#000">Trial 5</text><text x="210.7" y="495.3" font-size="4.7" text-anchor="middle" class="s" fill="#000">Trial 6</text><text x="229.5" y="495.3" font-size="4.7" text-anchor="middle" class="s" fill="#000">Trial 7</text><path d="M102.3 486.7H105.7M103 482.41H105M103 478.12H105M103 473.84H105M102.3 469.55H105.7M103 465.26H105M103 460.97H105M103 456.69H105M102.3 452.4H105.7M103 448.11H105M103 443.82H105M103 439.54H105M102.3 435.25H105.7M103 430.96H105M103 426.68H105M103 422.39H105M102.3 418.1H105.7M103 413.81H105M103 409.52H105M103 405.24H105M102.3 400.95H105.7M103 396.66H105M103 392.38H105M103 388.09H105M102.3 383.8H105.7M103 379.51H105M103 375.23H105M103 370.94H105M102.3 366.65H105.7M103 362.36H105M103 358.07H105M103 353.79H105M102.3 349.5H105.7M116.7 486.7V490.5M135.5 486.7V490.5M154.3 486.7V490.5M173.1 486.7V490.5M191.9 486.7V490.5M210.7 486.7V490.5M229.5 486.7V490.5" stroke="#2a2a2a" stroke-width="0.95" fill="none"/><text x="203.8" y="358.8" font-size="5.4" class="s" fill="#000">Unrestrained</text><text x="203.8" y="366.4" font-size="5.4" class="s" fill="#000">Restrained</text><text transform="translate(84.2 474.3) rotate(-90)" font-size="5.46" class="s" fill="#000">Protein/Polymer Contact Surface Area</text><text transform="translate(84.2 374.35) rotate(-90)" font-size="5.46" class="s" fill="#000">(</text><text transform="translate(84.2 372.6) rotate(-90)" font-size="5.46" class="s" fill="#000">Å</text><text transform="translate(82 367.1) rotate(-90)" font-size="3.9" class="s" fill="#000">2</text><text transform="translate(84.2 364.4) rotate(-90)" font-size="5.46" class="s" fill="#000">)</text><path d="M253 349.4H391.3V488.2" fill="none" stroke="#7a7a7a" stroke-width="1"/><path d="M253 349.4V488.2H391.3" fill="none" stroke="#4a4a4a" stroke-width="1"/><text x="265.8" y="496.8" font-size="4.7" text-anchor="middle" class="s" fill="#000">Trial 1</text><text x="284.58" y="496.8" font-size="4.7" text-anchor="middle" class="s" fill="#000">Trial 2</text><text x="303.37" y="496.8" font-size="4.7" text-anchor="middle" class="s" fill="#000">Trial 3</text><text x="322.15" y="496.8" font-size="4.7" text-anchor="middle" class="s" fill="#000">Trial 4</text><text x="340.93" y="496.8" font-size="4.7" text-anchor="middle" class="s" fill="#000">Trial 5</text><text x="359.72" y="496.8" font-size="4.7" text-anchor="middle" class="s" fill="#000">Trial 6</text><text x="378.5" y="496.8" font-size="4.7" text-anchor="middle" class="s" fill="#000">Trial 7</text><path d="M251.3 488.2H254.7M252 483.86H254M252 479.52H254M252 475.19H254M251.3 470.85H254.7M252 466.51H254M252 462.18H254M252 457.84H254M251.3 453.5H254.7M252 449.16H254M252 444.82H254M252 440.49H254M251.3 436.15H254.7M252 431.81H254M252 427.47H254M252 423.14H254M251.3 418.8H254.7M252 414.46H254M252 410.12H254M252 405.79H254M251.3 401.45H254.7M252 397.11H254M252 392.77H254M252 388.44H254M251.3 384.1H254.7M252 379.76H254M252 375.42H254M252 371.09H254M251.3 366.75H254.7M252 362.41H254M252 358.07H254M252 353.74H254M251.3 349.4H254.7M265.8 488.2V492M284.58 488.2V492M303.37 488.2V492M322.15 488.2V492M340.93 488.2V492M359.72 488.2V492M378.5 488.2V492" stroke="#2a2a2a" stroke-width="0.95" fill="none"/><text x="352.7" y="358.5" font-size="5.4" class="s" fill="#000">Unrestrained</text><text x="352.7" y="366.4" font-size="5.4" class="s" fill="#000">Restrained</text><path d="M404.8 349.3H544.3V487.4" fill="none" stroke="#7a7a7a" stroke-width="1"/><path d="M404.8 349.3V487.4H544.3" fill="none" stroke="#4a4a4a" stroke-width="1"/><text x="417.3" y="496" font-size="4.7" text-anchor="middle" class="s" fill="#000">Trial 1</text><text x="436.33" y="496" font-size="4.7" text-anchor="middle" class="s" fill="#000">Trial 2</text><text x="455.37" y="496" font-size="4.7" text-anchor="middle" class="s" fill="#000">Trial 3</text><text x="474.4" y="496" font-size="4.7" text-anchor="middle" class="s" fill="#000">Trial 4</text><text x="493.43" y="496" font-size="4.7" text-anchor="middle" class="s" fill="#000">Trial 5</text><text x="512.47" y="496" font-size="4.7" text-anchor="middle" class="s" fill="#000">Trial 6</text><text x="531.5" y="496" font-size="4.7" text-anchor="middle" class="s" fill="#000">Trial 7</text><path d="M403.1 487.4H406.5M403.8 483.08H405.8M403.8 478.77H405.8M403.8 474.45H405.8M403.1 470.14H406.5M403.8 465.82H405.8M403.8 461.51H405.8M403.8 457.19H405.8M403.1 452.88H406.5M403.8 448.56H405.8M403.8 444.24H405.8M403.8 439.93H405.8M403.1 435.61H406.5M403.8 431.3H405.8M403.8 426.98H405.8M403.8 422.67H405.8M403.1 418.35H406.5M403.8 414.03H405.8M403.8 409.72H405.8M403.8 405.4H405.8M403.1 401.09H406.5M403.8 396.77H405.8M403.8 392.46H405.8M403.8 388.14H405.8M403.1 383.82H406.5M403.8 379.51H405.8M403.8 375.19H405.8M403.8 370.88H405.8M403.1 366.56H406.5M403.8 362.25H405.8M403.8 357.93H405.8M403.8 353.62H405.8M403.1 349.3H406.5M417.3 487.4V491.2M436.33 487.4V491.2M455.37 487.4V491.2M474.4 487.4V491.2M493.43 487.4V491.2M512.47 487.4V491.2M531.5 487.4V491.2" stroke="#2a2a2a" stroke-width="0.95" fill="none"/><text x="505.3" y="358.1" font-size="5.4" class="s" fill="#000">Unrestrained</text><text x="505.3" y="366.1" font-size="5.4" class="s" fill="#000">Restrained</text></g>
</svg></body></html>
